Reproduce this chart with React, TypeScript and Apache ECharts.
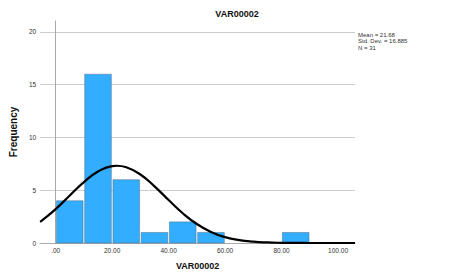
import React, { useEffect, useRef } from "react";
import * as echarts from "echarts";

const chartTitle = "VAR00002";
const xAxisName = "VAR00002";
const yAxisName = "Frequency";
const binStarts = [0, 10, 20, 30, 40, 50, 60, 70, 80, 90];
const binWidth = 10;
const counts = [4, 16, 6, 1, 2, 1, 0, 0, 1, 0];
const curveX = [-5.5, -5, 0, 5, 10, 15, 20, 21.68, 25, 30, 35, 40, 45, 50, 55, 60, 65, 70, 75, 80, 85, 90, 95, 100, 106];
const curveY = [2.0, 2.1, 3.21, 4.5, 5.77, 6.77, 7.29, 7.32, 7.18, 6.49, 5.37, 4.07, 2.82, 1.8, 1.045, 0.558, 0.273, 0.122, 0.05, 0.019, 0.0065, 0.002, 0.0006, 0.0001, 0];
const xTickValues = [0, 20, 40, 60, 80, 100];
const statsLines = ["Mean = 21.68", "Std. Dev. = 16.885", "N = 31"];

export default function App() {
  const ref = useRef<HTMLDivElement>(null);
  useEffect(() => {
    if (!ref.current) return;
    const chart = echarts.init(ref.current, null, { renderer: "svg" });
    const font = "'Liberation Sans', Arial, sans-serif";
    const bars = binStarts.map((s, i) => [s, s + binWidth, counts[i]]).filter((d) => d[2] > 0);
    chart.setOption({
      animation: false,
      textStyle: { fontFamily: font },
      title: {
        text: chartTitle,
        left: "center",
        top: 4,
        textStyle: { fontFamily: font, fontSize: 9, fontWeight: "bold", color: "#111" },
      },
      grid: { left: 37.5, right: 119, top: 21, bottom: 36 },
      xAxis: {
        type: "value",
        min: -5.5,
        max: 106,
        name: xAxisName,
        nameLocation: "middle",
        nameGap: 18,
        nameTextStyle: { fontFamily: font, fontSize: 9, fontWeight: "bold", color: "#111" },
        axisLine: { show: true, lineStyle: { color: "#aaaaaa", width: 1 } },
        axisTick: { show: false },
        splitLine: { show: false },
        axisLabel: {
          customValues: xTickValues,
          fontSize: 6.5,
          color: "#333",
          margin: 4,
          formatter: (v: number) => (v === 0 ? ".00" : v.toFixed(2)),
        },
      },
      yAxis: {
        type: "value",
        min: 0,
        max: 21.04,
        interval: 5,
        name: yAxisName,
        nameLocation: "middle",
        nameGap: 16,
        nameTextStyle: { fontFamily: font, fontSize: 10, fontWeight: "bold", color: "#111" },
        axisLine: { show: true, lineStyle: { color: "#aaaaaa", width: 1 } },
        axisTick: { show: false },
        splitLine: { show: true, showMaxLine: false, lineStyle: { color: "#cccccc", width: 1 } },
        axisLabel: {
          fontSize: 6.5,
          color: "#333",
          margin: 4,
          showMaxLabel: false,
          formatter: (v: number) => (v % 5 === 0 ? String(v) : ""),
        },
      },
      series: [
        {
          type: "custom",
          data: bars,
          z: 2,
          renderItem: (params: any, api: any) => {
            const x0 = api.value(0);
            const x1 = api.value(1);
            const y = api.value(2);
            const p0 = api.coord([x0, y]);
            const p1 = api.coord([x1, 0]);
            return {
              type: "rect",
              shape: { x: p0[0] + 0.8, y: p0[1], width: p1[0] - p0[0] - 1.6, height: p1[1] - p0[1] },
              style: { fill: "#33adff", stroke: "#4f6f86", lineWidth: 0.5 },
            };
          },
        },
        {
          type: "line",
          data: curveX.map((x, i) => [x, curveY[i]]),
          smooth: true,
          symbol: "none",
          z: 3,
          lineStyle: { color: "#000", width: 2.2 },
        },
      ],
      graphic: statsLines.map((t, i) => ({
        type: "text",
        left: 358,
        top: 32 + i * 6.4,
        style: { text: t, fontFamily: font, fontSize: 6, fill: "#333" },
      })),
    });
    return () => chart.dispose();
  }, []);
  return <div ref={ref} style={{ position: "fixed", left: 0, top: 0, width: 474, height: 279, background: "#fff" }} />;
}
